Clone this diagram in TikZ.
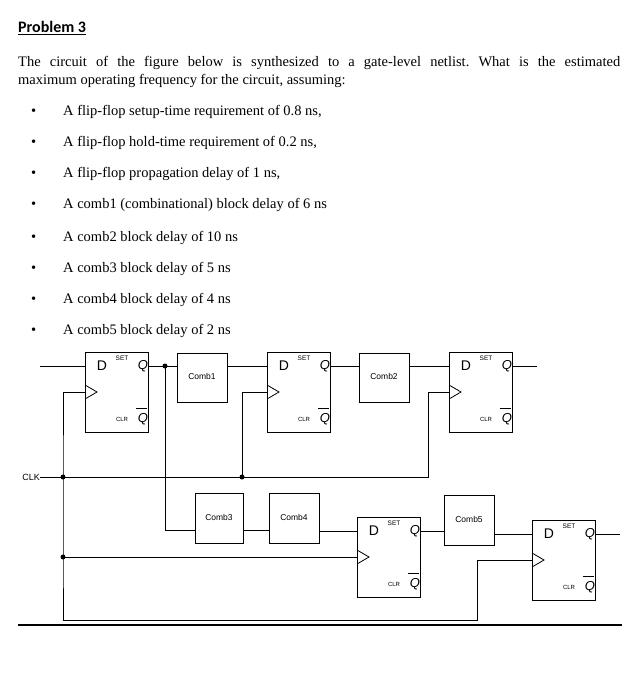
\documentclass[tikz,border=0pt]{standalone}
\usepackage{fontspec}
\setmainfont{Liberation Serif}
\setsansfont{Liberation Sans}
\newfontfamily\calib{Carlito}
\begin{document}
\frenchspacing
\begin{tikzpicture}[x=1pt,y=-1pt,
  ffs/.style={draw,line width=0.8pt,minimum width=63pt,minimum height=80pt,inner sep=0pt},
  comb/.style={draw,line width=0.8pt,inner sep=0pt},
  cl/.style={font=\sffamily\fontsize{8.5}{9}\selectfont,inner sep=0pt},
  wire/.style={line width=0.8pt},
  lab/.style={font=\sffamily,inner sep=0pt},
  txt/.style={anchor=base west,inner sep=0pt,font=\fontsize{14.5}{17}\selectfont},
  dot/.style={circle,fill,inner sep=0pt,minimum size=5pt}]
\useasboundingbox (0,0) rectangle (622,700);
% text
\node[anchor=base west,inner sep=0pt,font=\calib\bfseries\fontsize{16}{19}\selectfont] (title) at (18,33) {\underline{Problem 3}};
\node[txt] (p1) at (18,67) {\makebox[602pt][s]{The circuit of the figure below is synthesized to a gate-level netlist. What is the estimated}};
\node[txt] (p2) at (18,85) {maximum operating frequency for the circuit, assuming:};
\foreach \y/\t [count=\i] in {116/{A flip-flop setup-time requirement of 0.8 ns,},147/{A flip-flop hold-time requirement of 0.2 ns,},178/{A flip-flop propagation delay of 1 ns,},209/{A comb1 (combinational) block delay of 6 ns},241/{A comb2 block delay of 10 ns},272/{A comb3 block delay of 5 ns},303/{A comb4 block delay of 4 ns},334/{A comb5 block delay of 2 ns}}{
  \node[txt] (b\i) at (31,\y) {•};
  \node[txt] (t\i) at (63,\y) {\t};
}
\newcommand\ffbox[3]{%
  \node[ffs] (#1) at (#2+31.5,#3+40) {};
  \coordinate (#1d) at (#2,#3+14);
  \coordinate (#1q) at (#2+63,#3+14);
  \coordinate (#1c) at (#2,#3+40);
  \draw[wire] (#2,#3+33) -- (#2+12,#3+40) -- (#2,#3+47);
  \node[lab,font=\sffamily\fontsize{14}{14}\selectfont] (#1D) at (#2+17,#3+14) {D};
  \node[lab,font=\sffamily\fontsize{6.5}{7}\selectfont] (#1S) at (#2+37,#3+6) {SET};
  \node[lab,font=\sffamily\itshape\fontsize{13}{13}\selectfont] (#1Q) at (#2+58,#3+14) {Q};
  \node[lab,font=\sffamily\fontsize{6}{7}\selectfont] (#1R) at (#2+37,#3+67) {CLR};
  \node[lab,font=\sffamily\itshape\fontsize{13}{13}\selectfont] (#1N) at (#2+58,#3+67) {Q};
  \draw[wire] (#2+51,#3+56) -- (#2+62,#3+56);
}
\ffbox{fa}{85}{352}
\ffbox{fb}{267}{352}
\ffbox{fc}{449}{352}
\ffbox{fd}{357}{517}
\ffbox{fe}{532}{520}
\node[comb,minimum width=50pt,minimum height=49pt] (c1) at (202,377.5) {};
\node[cl] (c1l) at (202,376) {Comb1};
\node[comb,minimum width=50pt,minimum height=49pt] (c2) at (384,377.5) {};
\node[cl] (c2l) at (384,376) {Comb2};
\node[comb,minimum width=48pt,minimum height=50pt] (c3) at (219,518) {};
\node[cl] (c3l) at (219,517) {Comb3};
\node[comb,minimum width=50pt,minimum height=50pt] (c4) at (294,518) {};
\node[cl] (c4l) at (294,517) {Comb4};
\node[comb,minimum width=50pt,minimum height=50pt] (c5) at (469,520) {};
\node[cl] (c5l) at (469,519) {Comb5};
% data wires
\coordinate (in) at (40,366);
\coordinate (j1) at (165,366);
\draw[wire] (in) -- (fad);
\draw[wire] (faq) -- (faq -| c1.west);
\draw[wire] (c1.east |- fbd) -- (fbd);
\draw[wire] (fbq) -- (fbq -| c2.west);
\draw[wire] (c2.east |- fcd) -- (fcd);
\draw[wire] (fcq) -- ++(25,0);
\draw[wire] (j1) -- (165,530) -- (c3.west |- 0,530);
\draw[wire] (c3.east |- 0,530) -- (c4.west |- 0,530);
\draw[wire] (c4.east |- fdd) -- (fdd);
\draw[wire] (fdq) -- (fdq -| c5.west);
\draw[wire] (c5.east |- fed) -- (fed);
\draw[wire] (feq) -- ++(25,0);
% clock
\node[lab,font=\sffamily\fontsize{9}{9}\selectfont,anchor=east] (clk) at (40,477) {CLK};
\coordinate (j2) at (63,477);
\coordinate (j3) at (242,477);
\coordinate (j4) at (63,557);
\draw[wire] (clk.east) -- (428,477) -- (428,392) -- (fcc);
\draw[wire] (fac) -- (63,392) -- (j2) -- (j4) -- (63,620) -- (477,620) -- (477,560) -- (fec);
\draw[wire] (j4) -- (fdc);
\draw[wire] (fbc) -- (242,392) -- (j3);
\foreach \p in {j1,j2,j3,j4} \node[dot] at (\p) {};
\draw[line width=1.6pt] (18,625) -- (622,625);
\end{tikzpicture}
\end{document}
